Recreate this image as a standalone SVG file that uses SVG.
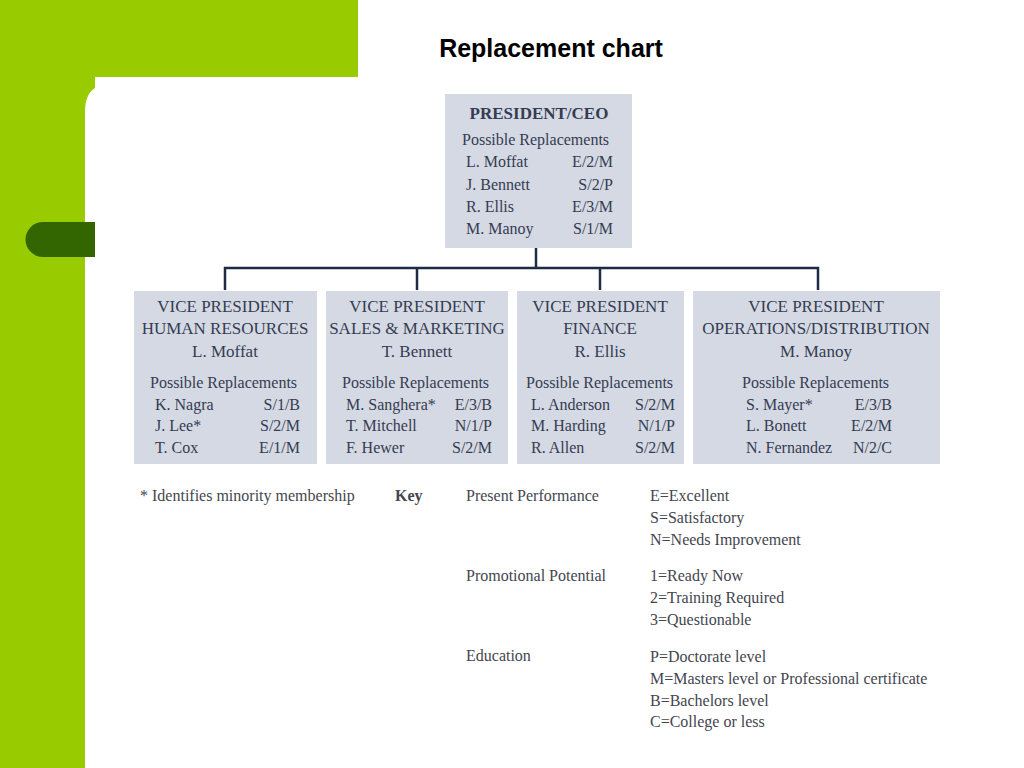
<svg xmlns="http://www.w3.org/2000/svg" width="1024" height="768" viewBox="0 0 1024 768">
<style>
.bg{fill:#99cc00}
.box{fill:#d5d9e3}
.t{font-family:"Liberation Serif",serif;fill:#343c52}
.h{font-size:17px;text-anchor:middle}
.s{font-size:16px}
.r{text-anchor:end}
.k{font-family:"Liberation Serif",serif;fill:#43464f;font-size:16px}
.ln{stroke:#1e2b45;stroke-width:2.5;fill:none}
</style>
<rect width="1024" height="768" fill="#ffffff"/>
<rect class="bg" x="0" y="0" width="358" height="77"/>
<rect class="bg" x="0" y="0" width="95" height="768"/>
<path d="M95,77 H1024 V768 H85 V112 Q85,94 95,88 Z" fill="#ffffff"/>
<path d="M95,222 V257 H43 A17.5,17.5 0 0 1 43,222 Z" fill="#336600"/>
<text x="551" y="57" font-family="Liberation Sans,Arial,sans-serif" font-size="25" font-weight="bold" text-anchor="middle" fill="#000">Replacement chart</text>

<g id="connectors" class="ln">
<path d="M536,248 V268"/>
<path d="M225,290 V268 H818 V290"/>
<path d="M417,268 V290"/>
<path d="M600,268 V290"/>
</g>

<g id="president">
<rect class="box" x="445" y="94" width="187" height="154"/>
<text class="t h" x="539" y="119" font-weight="bold" font-size="16.5">PRESIDENT/CEO</text>
<text class="t s" x="462" y="145">Possible Replacements</text>
<text class="t s" x="466" y="167">L. Moffat</text><text class="t s r" x="613" y="167">E/2/M</text>
<text class="t s" x="466" y="190">J. Bennett</text><text class="t s r" x="613" y="190">S/2/P</text>
<text class="t s" x="466" y="212">R. Ellis</text><text class="t s r" x="613" y="212">E/3/M</text>
<text class="t s" x="466" y="234">M. Manoy</text><text class="t s r" x="613" y="234">S/1/M</text>
</g>

<g id="vp-hr">
<rect class="box" x="134" y="291" width="183" height="173"/>
<text class="t h" x="225" y="312">VICE PRESIDENT</text>
<text class="t h" x="225" y="334">HUMAN RESOURCES</text>
<text class="t h" x="225" y="357">L. Moffat</text>
<text class="t s" x="150" y="388">Possible Replacements</text>
<text class="t s" x="155" y="410">K. Nagra</text><text class="t s r" x="300" y="410">S/1/B</text>
<text class="t s" x="155" y="431">J. Lee*</text><text class="t s r" x="300" y="431">S/2/M</text>
<text class="t s" x="155" y="453">T. Cox</text><text class="t s r" x="300" y="453">E/1/M</text>
</g>

<g id="vp-sales">
<rect class="box" x="326" y="291" width="182" height="173"/>
<text class="t h" x="417" y="312">VICE PRESIDENT</text>
<text class="t h" x="417" y="334">SALES &amp; MARKETING</text>
<text class="t h" x="417" y="357">T. Bennett</text>
<text class="t s" x="342" y="388">Possible Replacements</text>
<text class="t s" x="346" y="410">M. Sanghera*</text><text class="t s r" x="492" y="410">E/3/B</text>
<text class="t s" x="346" y="431">T. Mitchell</text><text class="t s r" x="492" y="431">N/1/P</text>
<text class="t s" x="346" y="453">F. Hewer</text><text class="t s r" x="492" y="453">S/2/M</text>
</g>

<g id="vp-finance">
<rect class="box" x="517" y="291" width="167" height="173"/>
<text class="t h" x="600" y="312">VICE PRESIDENT</text>
<text class="t h" x="600" y="334">FINANCE</text>
<text class="t h" x="600" y="357">R. Ellis</text>
<text class="t s" x="526" y="388">Possible Replacements</text>
<text class="t s" x="531" y="410">L. Anderson</text><text class="t s r" x="675" y="410">S/2/M</text>
<text class="t s" x="531" y="431">M. Harding</text><text class="t s r" x="675" y="431">N/1/P</text>
<text class="t s" x="531" y="453">R. Allen</text><text class="t s r" x="675" y="453">S/2/M</text>
</g>

<g id="vp-operations">
<rect class="box" x="693" y="291" width="247" height="173"/>
<text class="t h" x="816" y="312">VICE PRESIDENT</text>
<text class="t h" x="816" y="334">OPERATIONS/DISTRIBUTION</text>
<text class="t h" x="816" y="357">M. Manoy</text>
<text class="t s" x="742" y="388">Possible Replacements</text>
<text class="t s" x="746" y="410">S. Mayer*</text><text class="t s r" x="892" y="410">E/3/B</text>
<text class="t s" x="746" y="431">L. Bonett</text><text class="t s r" x="892" y="431">E/2/M</text>
<text class="t s" x="746" y="453">N. Fernandez</text><text class="t s r" x="892" y="453">N/2/C</text>
</g>

<g id="key">
<text class="k" x="140" y="501">* Identifies minority membership</text>
<text class="k" x="395" y="501" font-weight="bold">Key</text>
<text class="k" x="466" y="501">Present Performance</text>
<text class="k" x="650" y="501">E=Excellent</text>
<text class="k" x="650" y="523">S=Satisfactory</text>
<text class="k" x="650" y="545">N=Needs Improvement</text>
<text class="k" x="466" y="581">Promotional Potential</text>
<text class="k" x="650" y="581">1=Ready Now</text>
<text class="k" x="650" y="603">2=Training Required</text>
<text class="k" x="650" y="625">3=Questionable</text>
<text class="k" x="466" y="661">Education</text>
<text class="k" x="650" y="662">P=Doctorate level</text>
<text class="k" x="650" y="684">M=Masters level or Professional certificate</text>
<text class="k" x="650" y="706">B=Bachelors level</text>
<text class="k" x="650" y="727">C=College or less</text>
</g>
</svg>
